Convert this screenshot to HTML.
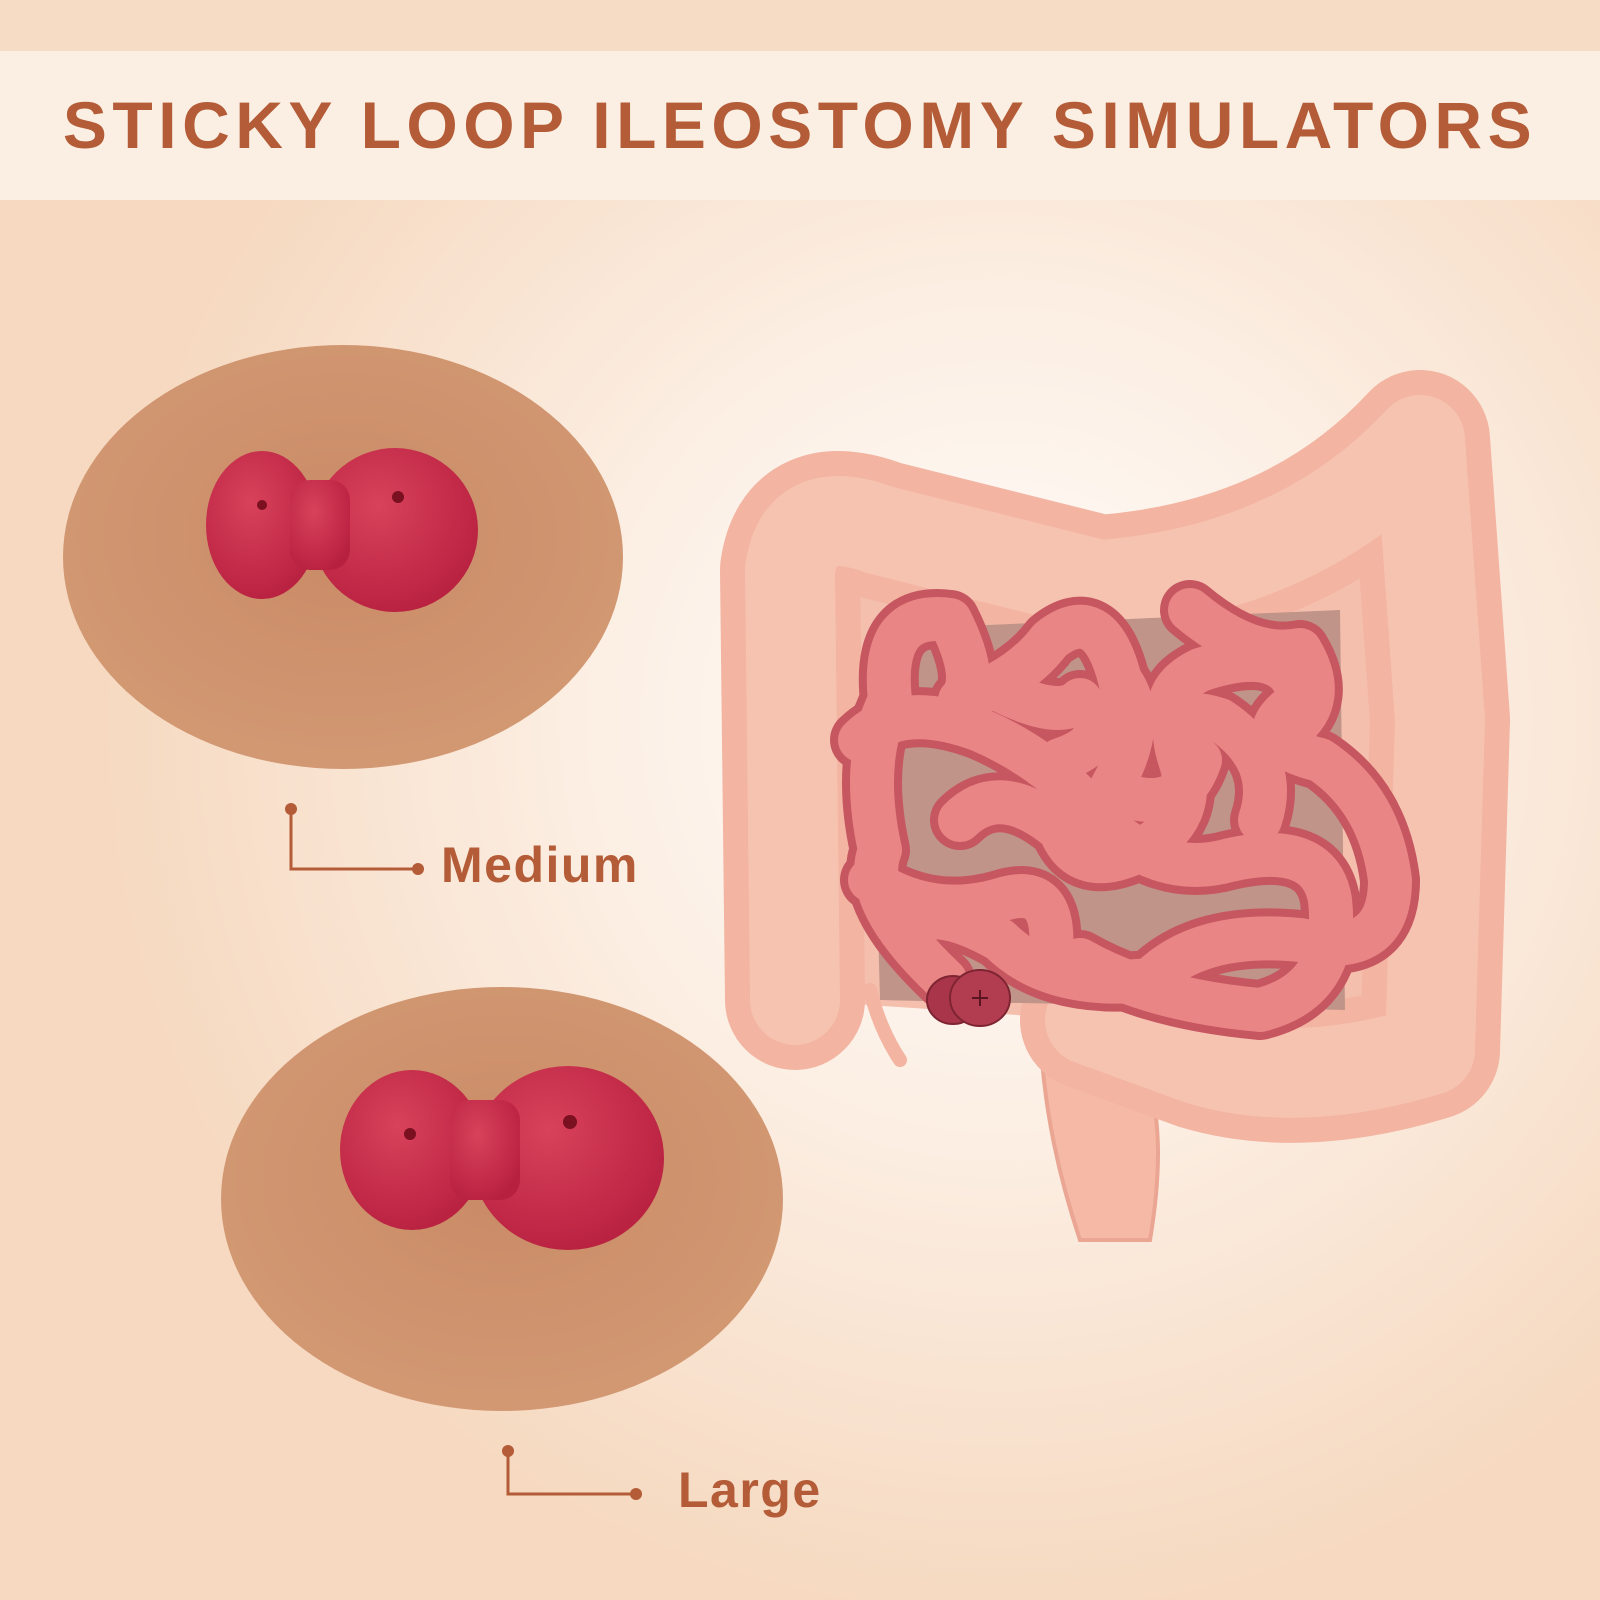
<!DOCTYPE html>
<html><head><meta charset="utf-8"><style>
html,body{margin:0;padding:0}
body{width:1600px;height:1600px;position:relative;overflow:hidden;
background:radial-gradient(ellipse 900px 900px at 1000px 720px,#fffdfb 0%,#fcefe4 45%,#f6d9c0 100%);font-family:"Liberation Sans",sans-serif}
.top{position:absolute;left:0;top:0;width:1600px;height:51px;background:#f6dcc4}
.hdr{position:absolute;left:0;top:51px;width:1600px;height:149px;background:#fbeee2}
.title{position:absolute;left:0;top:51px;width:1600px;height:149px;line-height:149px;text-align:center;color:#b35c37;font-weight:bold;font-size:66px;letter-spacing:5.5px}
.lbl{position:absolute;color:#b35c37;font-weight:bold;font-size:50px;letter-spacing:1.5px}
svg{position:absolute;left:0;top:0}
</style></head><body>
<div class="top"></div><div class="hdr"></div>
<div class="title">STICKY LOOP ILEOSTOMY SIMULATORS</div>
<svg width="1600" height="1600" viewBox="0 0 1600 1600">
<defs>
<radialGradient id="sk" cx="0.5" cy="0.45" r="0.6"><stop offset="0" stop-color="#c98a66"/><stop offset="1" stop-color="#d39a74"/></radialGradient>
<radialGradient id="st" cx="0.4" cy="0.35" r="0.7"><stop offset="0" stop-color="#d8425a"/><stop offset="1" stop-color="#b82040"/></radialGradient>
</defs>
<ellipse cx="343" cy="557" rx="280" ry="212" fill="url(#sk)"/>
<ellipse cx="502" cy="1199" rx="281" ry="212" fill="url(#sk)"/>
<g fill="url(#st)">
<ellipse cx="262" cy="525" rx="56" ry="74"/>
<ellipse cx="395" cy="530" rx="83" ry="82"/>
<rect x="290" y="480" width="60" height="90" rx="20"/>
</g>
<circle cx="262" cy="505" r="5" fill="#7a1020"/><circle cx="398" cy="497" r="6" fill="#7a1020"/>
<g fill="url(#st)">
<ellipse cx="412" cy="1150" rx="72" ry="80"/>
<ellipse cx="568" cy="1158" rx="96" ry="92"/>
<rect x="450" y="1100" width="70" height="100" rx="20"/>
</g>
<circle cx="410" cy="1134" r="6" fill="#7a1020"/><circle cx="570" cy="1122" r="7" fill="#7a1020"/>
<g stroke="#b35c37" stroke-width="3" fill="none">
<polyline points="291,809 291,869 418,869"/>
<polyline points="508,1451 508,1494 636,1494"/>
</g>
<g fill="#b35c37"><circle cx="291" cy="809" r="6"/><circle cx="418" cy="869" r="6"/><circle cx="508" cy="1451" r="6"/><circle cx="636" cy="1494" r="6"/></g>
<!-- colon -->
<path d="M1040,1010 Q1040,1120 1080,1240 L1150,1240 Q1170,1120 1140,1060 Z" fill="#f5b9a6" stroke="#eaa593" stroke-width="4"/>
<path d="M795,1000 L790,570 Q800,500 880,530 L1100,585 Q1300,570 1420,440 L1440,720 L1430,1050 Q1300,1090 1200,1060 L1090,1020 Z" fill="#f5bfae"/>
<path d="M795,1000 L790,570 Q800,500 880,530 L1100,585 Q1300,570 1420,440 L1440,720 L1430,1050 Q1300,1090 1200,1060 L1090,1020" fill="none" stroke="#f3b4a2" stroke-width="140" stroke-linejoin="round" stroke-linecap="round"/>
<path d="M795,1000 L790,570 Q800,500 880,530 L1100,585 Q1300,570 1420,440 L1440,720 L1430,1050 Q1300,1090 1200,1060 L1090,1020" fill="none" stroke="#f8c9b8" stroke-width="90" stroke-linejoin="round" stroke-linecap="round" opacity="0.7"/>
<path d="M870,990 Q880,1030 900,1060" stroke="#f3b4a2" stroke-width="14" fill="none" stroke-linecap="round"/>
<path d="M870,630 L1340,610 L1345,1010 L880,1000 Z" fill="#c09488"/>
<g fill="none" stroke-linecap="round" stroke-linejoin="round">
<g stroke="#c65660" stroke-width="60">
<path d="M945,980 Q860,900 880,850 Q860,760 890,700 Q880,610 950,620 Q980,680 960,700 Q1020,680 1050,640 Q1100,600 1120,680 Q1150,720 1110,790 Q1180,820 1200,760 Q1140,700 1200,670 Q1290,640 1300,700 Q1240,740 1320,760 Q1380,800 1390,880 Q1390,960 1300,940 Q1200,930 1150,980 Q1050,990 1000,940 Q930,900 900,930"/>
<path d="M860,740 Q900,700 980,730 Q1050,760 1100,820 Q1160,880 1230,860 Q1320,840 1330,900 Q1340,990 1260,1010 Q1150,1000 1080,960"/>
<path d="M960,820 Q1000,780 1060,830 Q1080,880 1140,850 Q1200,820 1180,760 Q1160,700 1220,720 Q1280,760 1260,820"/>
<path d="M1190,610 Q1250,660 1300,650 Q1330,700 1290,730"/>
<path d="M870,880 Q930,920 1000,900 Q1060,880 1050,960"/>
<path d="M1000,690 Q1060,720 1080,700 Q1120,740 1060,760"/>
</g>
<g stroke="#ea8585" stroke-width="44">
<path d="M945,980 Q860,900 880,850 Q860,760 890,700 Q880,610 950,620 Q980,680 960,700 Q1020,680 1050,640 Q1100,600 1120,680 Q1150,720 1110,790 Q1180,820 1200,760 Q1140,700 1200,670 Q1290,640 1300,700 Q1240,740 1320,760 Q1380,800 1390,880 Q1390,960 1300,940 Q1200,930 1150,980 Q1050,990 1000,940 Q930,900 900,930"/>
<path d="M860,740 Q900,700 980,730 Q1050,760 1100,820 Q1160,880 1230,860 Q1320,840 1330,900 Q1340,990 1260,1010 Q1150,1000 1080,960"/>
<path d="M960,820 Q1000,780 1060,830 Q1080,880 1140,850 Q1200,820 1180,760 Q1160,700 1220,720 Q1280,760 1260,820"/>
<path d="M1190,610 Q1250,660 1300,650 Q1330,700 1290,730"/>
<path d="M870,880 Q930,920 1000,900 Q1060,880 1050,960"/>
<path d="M1000,690 Q1060,720 1080,700 Q1120,740 1060,760"/>
</g>
</g>
<ellipse cx="953" cy="1000" rx="26" ry="24" fill="#a8354a" stroke="#7e2432" stroke-width="2"/>
<ellipse cx="980" cy="998" rx="30" ry="28" fill="#b23d50" stroke="#7e2432" stroke-width="2"/>
<path d="M972,998 h16 M980,990 v16" stroke="#5a1520" stroke-width="2"/>
</svg>
<div class="lbl" style="left:441px;top:836px">Medium</div>
<div class="lbl" style="left:678px;top:1461px">Large</div>
</body></html>
